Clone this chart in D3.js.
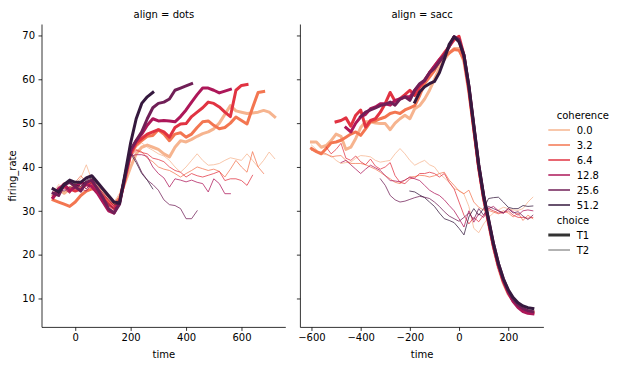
<!DOCTYPE html>
<html>
<head>
<meta charset="utf-8">
<script src="https://d3js.org/d3.v7.min.js"></script>
<style>
  body { margin: 0; background: #fff; }
  text { font-family: "DejaVu Sans", sans-serif; font-size: 10px; fill: #000; }
</style>
</head>
<body>
<svg width="617" height="366"></svg>
<script>
// categories
var coherence = ["0.0", "3.2", "6.4", "12.8", "25.6", "51.2"];
var choices = ["T1", "T2"];
var aligns = ["dots", "sacc"];
var palette = ["#f6b48f", "#f37651", "#e13342", "#ad1759", "#701f57", "#35193e"];

// time grids (ms)
var dotsTime = [-80,-60,-40,-20,0,20,40,60,80,100,120,140,160,180,200,220,240,260,280,300,
  320,340,360,380,400,420,440,460,480,500,520,540,560,580,600,620,640,660,680,700,720];
var saccTime = [-600,-580,-560,-540,-520,-500,-480,-460,-440,-420,-400,-380,-360,-340,-320,-300,
  -280,-260,-240,-220,-200,-180,-160,-140,-120,-100,-80,-60,-40,-20,0,20,40,60,80,100,120,140,
  160,180,200,220,240,260,280,300];

// firing rate, one row per coherence level (same order as `coherence`)
var dotsT1 = [
  [33.5,35,34,35,36,35,36.5,37,35.5,34, 33,31.5,33,36.5,40,43,44.5,45,44.5,44, 43,42.3,44.5,46,45.7,46.3,47,47.6,48,48.7, 50,52,54,52.8,52.5,52.2,52.3,52.5,52.9,52.5, 51.4],
  [32.5,32,31.5,31,32,33.5,34.5,35,35,33.5, 32,31.5,32.5,37,43,45,46,47,47.2,48.5, 47.5,46,47.5,47.8,46.8,47.5,49,50.3,50.5,49.5, 48.7,49,50,51.4,50.6,49.8,53.5,57,57.2,null, null],
  [33,34.5,35.5,35,34.5,35,36,36.5,34.5,33, 31.5,30.5,32,37.5,43,45.5,46.5,47.5,48,48.5, 48,46.8,49,49.8,49.9,51.5,52.5,53.5,54.8,54.5, 53.7,52.5,51.5,57.5,58.6,58.8,null,null,null,null, null],
  [33,35,36,34.5,35.5,36.5,36,35.5,34,32, 30,29.5,32,38,43.5,46,47.5,49.5,51,50.5, 50.6,50.5,50.3,51.5,53,54.8,56.5,58,58,57.5, 56.9,57.3,57.7,null,null,null,null,null,null,null, null],
  [34,33.5,36,36.5,35.5,34.5,36.5,37,35,33, 30.5,29.5,31.5,38,44,46,48,51,53.5,54.5, 54.8,55.5,57.5,58,58.5,59,null,null,null,null, null,null,null,null,null,null,null,null,null,null, null],
  [35,34.3,36,37,36.5,36.5,37.5,38,36.5,35, 33.5,32,31.8,38.5,45.5,51,54.5,56,57,null, null,null,null,null,null,null,null,null,null,null, null,null,null,null,null,null,null,null,null,null, null]
];
var dotsT2 = [
  [34,36,35,35.5,36,37.5,40.5,37,36,34.5, 33.5,32,34,38,42,44.5,45.5,44.5,43.8,43, 42.5,41.5,40,38.8,40,41.5,43,41.5,40.4,40.5, 40.8,41.5,42.1,41.8,41.5,43,41.5,40,41.5,43.4, 41.9],
  [33,34.5,35.5,34,36.5,38,36.5,35.5,34.5,33, 32,31.5,33.5,38.5,43,44,43.5,42,41.2,40, 39.5,39.2,38.5,37.7,38.5,39.2,40,39.6,39.2,39.5, 39,37.7,39.5,41.5,40,38.8,43.5,40,38.5,null, null],
  [34.5,35,36.5,35,35,36,35,36,35,33.5, 32.5,31,33,38,42.5,43.8,43.3,43,42,41.7, 41.2,40,39.2,38.8,37.7,38.5,38,37.7,38.1,38.5, 39,36.9,37.3,37.3,36.9,35.8,38.1,null,null,null, null],
  [33.5,35.5,35,34,36,35,34.5,36,35.5,34, 32.5,31,32,37,42.5,42.8,42.8,42.4,40,38.5, 37.5,35.4,37.3,37,36.6,37,36.5,36.2,34.3,37.3, 36.2,33.9,33.9,null,null,null,null,null,null,null, null],
  [34,35,34.5,35.5,35,36,35,36.5,35,33, 31.5,30.5,31.5,37,43.5,41.5,38.8,37,36,34.7, 32.5,31.4,31.2,30.5,28.2,28.2,30,null,null,null, null,null,null,null,null,null,null,null,null,null, null],
  [35,34,35.5,36.5,36,35.5,37,37.5,36,34.5, 33,31.5,31.5,37.5,43,41,38.5,37,35,null, null,null,null,null,null,null,null,null,null,null, null,null,null,null,null,null,null,null,null,null, null]
];
var saccT1 = [
  [45.7,45.7,44.5,44.9,46,47.5,47,44,44.5,46.5, 49,50.3,50.3,50,49.9,49.9,48.5,50,51,51.8, 51,53.3,54,55.5,57.5,60,62.5,64.5,66,67, 67,64,57,48.5,39.5,32.5,27,21.5,17,13.5, 11,9.5,8.3,7.6,7.2,7],
  [44.2,43.5,43,44.2,45.5,45.7,46.1,46.8,47.5,48, 47.2,48.7,50.3,50.5,51,51.4,52.2,52.5,52.2,53, 53.5,54,56.3,59,60.5,62,64,65.2,66,66.8, 66.6,64.5,57.5,48.5,40,33,27.5,22,17.5,13.8, 11.3,9.5,8.2,7.4,7,6.8],
  [null,null,null,null,null,50.3,50.6,51.2,49.3,51.8, 53,49.1,50.6,51,52.5,54.5,57,55,55.6,56.5, 57.5,56.3,58.2,59.8,61.5,63,64.5,66,67.5,69, 69.8,65.5,58,49,40,33,27.5,22,17.5,14, 11.5,9.5,8.2,7.3,6.8,6.6],
  [null,null,null,null,null,null,null,49,48,50, 51.4,52,53.3,53.7,54.4,54.4,54.1,55.2,55.5,56, 56,57.5,58.8,59.6,61.5,63,64.5,65.5,67.5,69.7, 69,65,58,49,40,33,27.5,22,17.5,14, 11.3,9.3,7.9,7,6.6,6.5],
  [null,null,null,null,null,null,null,null,null,null, 51.5,52.5,53,53.5,54,54.3,54.8,54.1,55.5,56, 55.2,57.5,59,59.8,61.5,62.5,64,65.5,67.5,69.7, 69,65.5,58.5,49.5,40.5,33.5,28,22.5,18,14.5, 11.8,9.8,8.5,7.7,7.2,7],
  [null,null,null,null,null,null,null,null,null,null, null,null,null,null,null,null,null,null,null,null, null,54.8,57.1,58.3,59,59.5,61.5,64.5,68,69.7, 68.5,65.5,58.5,49.5,40.5,33.5,28,22.5,18,14.5, 12,10.2,9,8.3,7.9,7.7]
];
var saccT2 = [
  [45,44,43,42.8,42.6,41.5,40.8,41,41.1,42, 42.6,42.5,42.3,41.5,41.1,41.3,41.5,43,44.2,43, 41.5,40.4,41,41.5,40.5,40,38.5,37.5,36.5,35, 34.7,33.8,31,26,25,27,28.5,29.5,30.2,30.8, 30.5,30.2,30.1,30.5,32,33.1],
  [43.8,43.5,43.4,43,42.3,42.5,42.6,41.5,40.8,40.8, 40.8,40.5,40,39.5,38.8,38,37.3,36.5,36.2,37, 37.7,37.8,38.1,38,37.7,38,38.5,38.8,37,35.8, 34.5,33.9,34.7,32,30.8,30.2,30.1,29.7,29.3,30, 29.5,28.6,29.5,27.8,29,28.2],
  [null,null,null,44.5,43,44,45.4,42,41.5,42.5, 41.2,40.5,41.8,40.2,39.5,40,41,38,36.5,36.2, 37.3,37.5,38.5,38.5,38.8,38.5,37.7,38.5,36.5,35, 32,29,27,28.5,27.5,29,30.5,30,29.5,29.5, 30,29,28.5,28.5,28.3,28.5],
  [null,null,null,null,null,null,41,41.5,40.5,39.5, 38.5,39.5,40.4,39.8,39.2,38,36.9,36.8,36.6,37, 37.7,37.3,36.9,35.8,34.7,34,33.5,32.5,31.2,30, 28.2,26.3,30,27.4,29.3,28.5,30.5,31,30,29.5, 30.5,29.8,29,30,30.2,30],
  [null,null,null,null,null,null,null,null,null,null, null,null,null,null,37.3,35.8,33.5,32.5,32,32.2, 32.6,33,33.3,33.1,32.8,32,31,29.8,28.8,28.2, 27.6,28.5,29.5,28,30.5,29,31,30.5,30,29.5, 30.5,29.5,29.8,28.8,28,29],
  [null,null,null,null,null,null,null,null,null,null, null,null,null,null,null,null,null,null,null,null, 34.5,34.3,33.6,33,32,31,29.5,28.2,27.8,27.3, 26,24.5,28.6,30.5,29,30.5,32.8,33,33.1,32, 30.8,30.5,30.5,31.2,31,31.1]
];

var yTicks = [10, 20, 30, 40, 50, 60, 70];
var dotsTicks = [0, 200, 400, 600];
var saccTicks = [-600, -400, -200, 0, 200];

var svg = d3.select("svg");
var yTop = 24.5, yBottom = 327.4;
var y = d3.scaleLinear().domain([3.4, 72.5]).range([yBottom, yTop]);

var panels = [
  {name: "dots", left: 42, right: 285.8, domain: [-120, 760], time: dotsTime, T1: dotsT1, T2: dotsT2, ticks: dotsTicks},
  {name: "sacc", left: 300.4, right: 543.9, domain: [-645, 345], time: saccTime, T1: saccT1, T2: saccT2, ticks: saccTicks}
];

var widths = {T1: 3, T2: 0.75};

panels.forEach(function(p, pi) {
  var x = d3.scaleLinear().domain(p.domain).range([p.left, p.right]);
  var g = svg.append("g");

  var line = d3.line()
    .defined(function(d) { return d[1] != null; })
    .x(function(d) { return x(d[0]); })
    .y(function(d) { return y(d[1]); });

  coherence.forEach(function(c, ci) {
    choices.forEach(function(ch) {
      var vals = p[ch][ci];
      var pts = p.time.map(function(t, i) { return [t, vals[i]]; });
      g.append("path")
        .attr("d", line(pts))
        .attr("fill", "none")
        .attr("stroke", palette[ci])
        .attr("stroke-width", widths[ch])
        .attr("stroke-linejoin", "round")
        .attr("stroke-linecap", "square");
    });
  });

  // axes
  var xa = svg.append("g").attr("transform", "translate(0," + yBottom + ")")
    .call(d3.axisBottom(x).tickValues(p.ticks).tickSize(3.5).tickPadding(3.5)
      .tickFormat(function(d) { return d < 0 ? "\u2212" + Math.abs(d) : d; }));
  var ya = svg.append("g").attr("transform", "translate(" + p.left + ",0)")
    .call(d3.axisLeft(y).tickValues(yTicks).tickSize(3.5).tickPadding(3.5)
      .tickFormat(pi == 0 ? d3.format("d") : function() { return ""; }));
  [xa, ya].forEach(function(a) {
    a.select(".domain").attr("stroke", "#000").attr("stroke-width", 0.8);
    a.selectAll(".tick line").attr("stroke", "#000").attr("stroke-width", 0.8);
    a.selectAll(".tick text").style("font-size", "10px").attr("fill", "#000")
      .style("font-family", "DejaVu Sans, sans-serif");
  });
  // plain spines, no end caps
  xa.select(".domain").attr("d", "M" + p.left + ",0H" + p.right);
  ya.select(".domain").attr("d", "M0," + yBottom + "V" + yTop);

  svg.append("text").attr("x", (p.left + p.right) / 2).attr("y", 17.5)
    .attr("text-anchor", "middle").text("align = " + p.name);
  svg.append("text").attr("x", (p.left + p.right) / 2).attr("y", 358)
    .attr("text-anchor", "middle").text("time");
});

svg.append("text")
  .attr("transform", "translate(16," + ((yTop + yBottom) / 2) + ") rotate(-90)")
  .attr("text-anchor", "middle").text("firing_rate");

// legend
var lg = svg.append("g");
lg.append("text").attr("x", 556.7).attr("y", 119).text("coherence");
coherence.forEach(function(c, ci) {
  var yy = 130 + ci * 15;
  lg.append("line").attr("x1", 548.3).attr("x2", 570).attr("y1", yy).attr("y2", yy)
    .attr("stroke", palette[ci]).attr("stroke-width", 1.5);
  lg.append("text").attr("x", 576.7).attr("y", yy + 3.6).text(c);
});
lg.append("text").attr("x", 556.7).attr("y", 224).text("choice");
choices.forEach(function(ch, i) {
  var yy = 235 + i * 15;
  lg.append("line").attr("x1", 548.3).attr("x2", 570).attr("y1", yy).attr("y2", yy)
    .attr("stroke", "#333").attr("stroke-width", widths[ch]);
  lg.append("text").attr("x", 576.7).attr("y", yy + 3.6).text(ch);
});
</script>
</body>
</html>
